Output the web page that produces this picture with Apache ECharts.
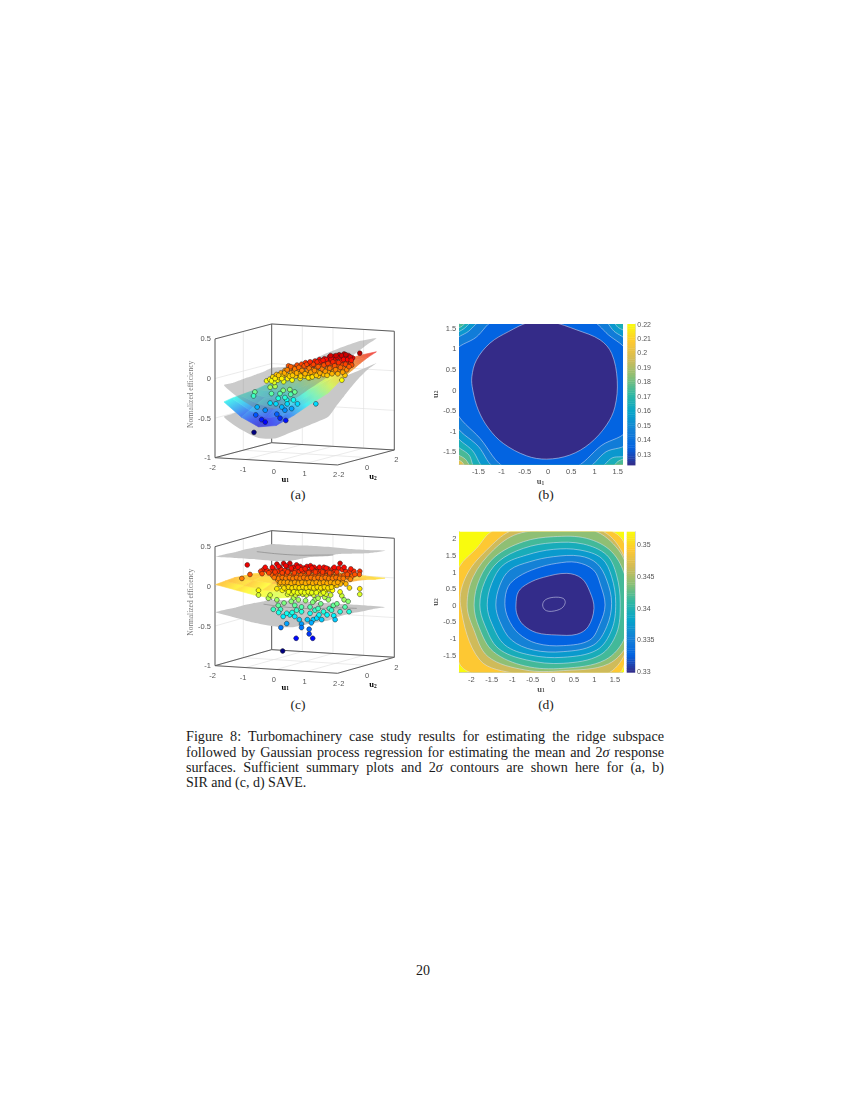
<!DOCTYPE html>
<html>
<head>
<meta charset="utf-8">
<title>Figure 8</title>
<script src="https://cdn.jsdelivr.net/npm/echarts@6/dist/echarts.min.js"></script>
<style>
html, body { margin: 0; padding: 0; background: #fff; }
#chart { width: 850px; height: 1100px; filter: blur(0.5px); }
.page-text { position: absolute; font-family: "Liberation Serif", serif; color: #1a1a1a; white-space: pre; line-height: 16px; }
.caption-line { left: 186px; width: 478px; font-size: 14.2px; white-space: normal; text-align: justify; text-align-last: justify; }
.caption-line.last { text-align-last: left; font-size: 14px; }
.sub-label { font-size: 13.5px; transform: translateX(-50%); }
</style>
</head>
<body>
<div id="chart"></div>
<div class="page-text sub-label" style="left:298px;top:487px">(a)</div>
<div class="page-text sub-label" style="left:546px;top:487px">(b)</div>
<div class="page-text sub-label" style="left:298px;top:697px">(c)</div>
<div class="page-text sub-label" style="left:546px;top:697px">(d)</div>
<div class="page-text caption-line" style="top:728px">Figure 8: Turbomachinery case study results for estimating the ridge subspace</div>
<div class="page-text caption-line" style="top:744px">followed by Gaussian process regression for estimating the mean and 2<i>&sigma;</i> response</div>
<div class="page-text caption-line" style="top:759px">surfaces. Sufficient summary plots and 2<i>&sigma;</i> contours are shown here for (a, b)</div>
<div class="page-text caption-line last" style="top:775px">SIR and (c, d) SAVE.</div>
<div class="page-text" style="left:416px;top:963px;font-size:14px">20</div>
<script>
// 3d panels: tick labels
var u1Ticks = [-2, -1, 0, 1, 2];
var u2Ticks = [-2, 0, 2];
var zTicks = [-1, -0.5, 0, 0.5];

// panel (a): surface nodes and heights (rows follow u2, columns follow u1)
var aNodesU1 = [-1.8, -1.23, -0.67, -0.1, 0.47, 1.03, 1.6];
var aNodesU2 = [-1.8, -1.23, -0.67, -0.1, 0.47, 1.03, 1.6];
var aMean = [
  [-0.30, -0.48, -0.59, -0.56, -0.42, -0.26, -0.11],
  [-0.28, -0.42, -0.50, -0.46, -0.32, -0.16, -0.03],
  [-0.27, -0.36, -0.41, -0.35, -0.22, -0.07, 0.04],
  [-0.26, -0.31, -0.32, -0.24, -0.12, 0.01, 0.10],
  [-0.25, -0.26, -0.24, -0.15, -0.03, 0.08, 0.16],
  [-0.23, -0.21, -0.16, -0.07, 0.05, 0.14, 0.21],
  [-0.21, -0.17, -0.09, 0.00, 0.10, 0.19, 0.25]
];
// 2 sigma surfaces, heights walking round the border of the domain
var aUpperEdge = [-0.09, -0.26, -0.37, -0.35, -0.22, -0.06, 0.10, 0.16, 0.22, 0.28, 0.33, 0.38, 0.42,
  0.37, 0.28, 0.18, 0.07, 0.00, -0.03, -0.05, -0.06, -0.07, -0.08, -0.09];
var aLowerEdge = [-0.49, -0.64, -0.73, -0.72, -0.62, -0.52, -0.41, -0.30, -0.20, -0.10, -0.01, 0.06, 0.105,
  0.00, -0.10, -0.20, -0.30, -0.38, -0.42, -0.44, -0.45, -0.46, -0.47, -0.48];
// samples read against the left axis: [position across the box, height]
var aPoints = [
  [-1.13,-0.68],[-1.09,-0.46],[-0.96,-0.52],[-0.88,-0.55],[-0.55,-0.50],[-0.42,-0.53],[-0.62,-0.45],[-0.88,-0.40],
  [-0.77,-0.31],[0.25,-0.32],[-0.29,-0.38],[-0.44,-0.40],[-1.11,-0.17],[-1.14,-0.22],[-1.06,-0.36],[-0.74,-0.19],
  [-0.51,-0.36],[-0.40,-0.27],[-0.25,-0.27],[-0.59,-0.25],[-0.48,-0.15],[-0.33,-0.14],[-0.22,-0.17],[-0.66,-0.10],
  [-0.85,-0.03],[-0.39,-0.32],[-0.64,-0.32],[-0.31,-0.20],[-0.55,-0.19],[-0.44,-0.24],[-0.16,-0.32],[-0.77,-0.11],
  [-0.78,-0.01],[-0.71,0.02],[-0.68,-0.05],[-0.63,0.05],[-0.60,-0.02],[-0.57,0.01],[-0.53,0.07],[-0.49,0.03],
  [-0.47,-0.04],[-0.44,0.10],[-0.41,0.05],[-0.38,0.00],[-0.36,0.16],[-0.33,0.12],[-0.30,0.07],[-0.28,-0.02],
  [-0.25,0.14],[-0.23,0.09],[-0.20,0.03],[-0.17,0.17],[-0.15,0.11],[-0.12,0.06],[-0.10,0.00],[-0.07,0.18],
  [-0.05,0.13],[-0.03,0.08],[0.00,0.03],[0.02,0.20],[0.04,0.15],[0.07,0.10],[0.09,0.05],[0.11,0.01],
  [0.13,0.19],[0.16,0.16],[0.18,0.11],[0.20,0.06],[0.23,0.22],[0.25,0.17],[0.27,0.13],[0.29,0.08],
  [0.31,0.03],[0.33,0.24],[0.35,0.20],[0.38,0.15],[0.40,0.10],[0.42,0.05],[0.44,0.25],[0.47,0.21],
  [0.49,0.17],[0.51,0.12],[0.53,0.08],[0.55,0.27],[0.57,0.23],[0.60,0.19],[0.62,0.14],[0.64,0.09],
  [0.66,0.28],[0.68,0.24],[0.71,0.20],[0.73,0.15],[0.75,0.11],[0.77,0.30],[0.79,0.26],[0.82,0.22],
  [0.84,0.17],[0.86,0.13],[0.88,0.31],[0.90,0.27],[0.93,0.22],[0.95,0.18],[0.98,0.29],[1.00,0.25],
  [1.03,0.20],[1.07,0.26],[1.23,0.32],[0.83,-0.02],[0.90,0.04],[1.05,0.17],[0.94,0.11],
  [-0.74,-0.03],[-0.66,0.00],[-0.58,0.04],[-0.51,0.00],[-0.45,0.07],[-0.39,0.11],[-0.34,0.03],[-0.31,0.15],
  [-0.27,0.04],[-0.22,0.12],[-0.18,0.07],[-0.13,0.14],[-0.09,0.03],[-0.06,0.10],[-0.01,0.16],[0.01,0.06],
  [0.05,0.18],[0.08,0.01],[0.10,0.13],[0.14,0.08],[0.17,0.02],[0.19,0.18],[0.22,0.10],[0.26,0.04],
  [0.28,0.21],[0.30,0.15],[0.34,0.07],[0.37,0.22],[0.39,0.12],[0.43,0.17],[0.46,0.09],[0.48,0.24],
  [0.50,0.04],[0.52,0.19],[0.56,0.13],[0.59,0.25],[0.61,0.06],[0.63,0.21],[0.67,0.16],[0.69,0.11],
  [0.72,0.27],[0.74,0.06],[0.76,0.20],[0.80,0.14],[0.83,0.29],[0.85,0.08],[0.87,0.24],[0.91,0.18],
  [0.96,0.24],[0.99,0.15],[1.02,0.27],[1.04,0.23],[0.92,0.30],[0.70,0.29],[0.58,0.29],[0.41,0.23],[0.12,0.21]
];

// panel (c)
var cNodesU1 = [-2, -1.38, -0.77, -0.15, 0.47, 1.08, 1.7];
var cNodesU2 = [-1.95, -1.29, -0.63, 0.02, 0.68, 1.34, 2];
var cMean = [
  [0.02, -0.03, -0.08, -0.11, -0.08, 0.00, 0.08],
  [0.03, -0.01, -0.05, -0.07, -0.04, 0.02, 0.08],
  [0.04, 0.02, 0.00, -0.02, 0.00, 0.04, 0.07],
  [0.03, 0.04, 0.05, 0.04, 0.04, 0.05, 0.06],
  [0.02, 0.04, 0.05, 0.05, 0.05, 0.04, 0.04],
  [0.00, 0.02, 0.03, 0.04, 0.03, 0.02, 0.01],
  [-0.03, 0.00, 0.02, 0.03, 0.02, 0.00, -0.01]
];
var cUpperEdge = [0.37, 0.37, 0.37, 0.36, 0.38, 0.44, 0.47, 0.46, 0.43, 0.40, 0.37, 0.35, 0.337,
  0.33, 0.33, 0.34, 0.34, 0.33, 0.33, 0.34, 0.35, 0.36, 0.36, 0.37];
var cLowerEdge = [-0.33, -0.38, -0.43, -0.46, -0.46, -0.40, -0.34, -0.33, -0.33, -0.34, -0.35, -0.36, -0.377,
  -0.37, -0.37, -0.37, -0.37, -0.37, -0.37, -0.36, -0.35, -0.34, -0.34, -0.33];
// darker folds seen on the two gray sheets: [u1, u2, z]
var cUpperFold = [[-1.56,0,0.347],[-0.9,0,0.335],[-0.2,0,0.335],[0.4,0,0.35],[0.93,0,0.364]];
var cLowerFold = [[-1.34,0,-0.31],[-0.6,0,-0.33],[0.2,0,-0.33],[1.0,0,-0.30],[1.7,0,-0.29]];
var cPoints = [
  [-1.28,0.27],[-1.22,0.15],[-1.40,0.10],[-1.03,-0.05],[-1.03,-0.11],[-0.49,-0.815],[-0.19,-0.655],[0.18,-0.655],
  [0.10,-0.60],[-0.53,-0.52],[0.10,-0.54],[-0.07,-0.475],[-0.07,-0.52],[-0.40,-0.47],[-0.48,-0.38],[-0.22,-0.38],
  [0.06,-0.42],[0.19,-0.42],[0.27,-0.40],[0.38,-0.42],[0.65,-0.37],[0.68,-0.42],[-0.33,-0.36],[-0.40,-0.34],
  [-0.54,-0.29],[-0.70,-0.29],[-0.07,-0.32],[0.12,-0.34],[0.23,-0.30],[0.42,-0.32],[0.55,-0.28],[0.79,-0.32],
  [0.99,-0.32],[-0.22,-0.24],[-0.07,-0.26],[0.12,-0.26],[0.30,-0.28],[0.64,-0.24],[0.90,-0.26],[-0.81,-0.15],
  [-0.77,-0.11],[-0.62,-0.17],[-0.59,-0.24],[-0.25,-0.15],[-0.14,-0.17],[0.23,-0.17],[0.30,-0.15],[0.45,-0.14],
  [0.53,-0.17],[0.83,-0.12],[0.88,-0.17],[0.97,-0.19],[1.23,-0.10],[1.23,-0.03],[0.79,-0.07],
  [-0.62,0.28],[-0.55,0.24],[-0.47,0.29],[-0.40,0.25],[-0.33,0.29],[-0.26,0.24],[-0.18,0.27],[-0.10,0.25],
  [-0.02,0.23],[0.05,0.25],[0.13,0.26],[0.21,0.24],[0.30,0.22],[0.43,0.24],[0.52,0.22],[0.63,0.22],[0.79,0.29],
  [-0.92,0.21],[-0.84,0.20],[-0.76,0.19],[-0.68,0.21],[-0.60,0.19],[-0.52,0.21],[-0.44,0.20],[-0.36,0.19],
  [-0.28,0.21],[-0.20,0.20],[-0.12,0.19],[-0.04,0.18],[0.04,0.20],[0.12,0.19],[0.20,0.20],[0.28,0.18],
  [0.36,0.20],[0.44,0.18],[0.52,0.19],[0.60,0.17],[0.68,0.20],[0.76,0.23],[0.84,0.21],[0.92,0.19],
  [1.00,0.18],[1.10,0.19],[1.23,0.19],[1.22,0.15],
  [-0.72,0.14],[-0.64,0.15],[-0.56,0.13],[-0.48,0.15],[-0.40,0.14],[-0.32,0.13],[-0.24,0.15],[-0.16,0.13],
  [-0.08,0.14],[0.00,0.13],[0.08,0.15],[0.16,0.13],[0.24,0.14],[0.32,0.13],[0.40,0.15],[0.48,0.13],
  [0.56,0.14],[0.64,0.12],[0.72,0.14],[0.80,0.13],[0.88,0.14],[0.96,0.12],[1.06,0.13],
  [-0.60,0.08],[-0.52,0.09],[-0.44,0.07],[-0.36,0.09],[-0.28,0.07],[-0.20,0.09],[-0.12,0.07],[-0.04,0.08],
  [0.04,0.07],[0.12,0.09],[0.20,0.07],[0.28,0.09],[0.36,0.07],[0.44,0.08],[0.52,0.07],[0.60,0.09],
  [0.68,0.07],[0.76,0.08],[0.84,0.06],[0.92,0.03],
  [-0.56,0.03],[-0.48,0.01],[-0.40,0.03],[-0.32,0.01],[-0.24,0.02],[-0.16,0.00],[-0.08,0.02],[0.00,0.01],
  [0.08,0.03],[0.16,0.01],[0.24,0.02],[0.32,0.00],[0.40,0.02],[0.48,0.01],[0.56,0.02],[0.64,0.00],[0.72,0.01],[0.80,0.03],
  [-0.62,-0.03],[-0.50,-0.05],[-0.42,-0.03],[-0.34,-0.05],[-0.26,-0.03],[-0.18,-0.05],[-0.10,-0.04],[-0.02,-0.06],
  [0.06,-0.03],[0.14,-0.05],[0.22,-0.04],[0.30,-0.06],[0.38,-0.03],[0.46,-0.05],[0.54,-0.04],[0.62,-0.05],
  [-0.38,-0.10],[-0.30,-0.09],[-0.20,-0.11],[-0.12,-0.09],[-0.04,-0.10],[0.04,-0.11],[0.12,-0.09],[0.20,-0.11],
  [0.36,-0.10],[0.48,-0.10],[0.58,-0.11],
  [-0.88,0.24],[-0.80,0.17],[-0.72,0.24],[-0.66,0.18],[-0.58,0.25],[-0.50,0.17],[-0.42,0.26],[-0.38,0.18],
  [-0.30,0.23],[-0.23,0.17],[-0.15,0.24],[-0.07,0.21],[0.01,0.22],[0.09,0.17],[0.16,0.23],[0.24,0.18],
  [0.33,0.24],[0.40,0.18],[0.48,0.23],[0.56,0.17],[0.66,0.24],[0.72,0.18],[0.88,0.24],[0.95,0.15],[1.03,0.22],
  [-0.68,0.11],[-0.58,0.10],[-0.50,0.11],[-0.42,0.10],[-0.34,0.11],[-0.26,0.10],[-0.18,0.11],[-0.10,0.10],
  [-0.02,0.11],[0.06,0.10],[0.14,0.11],[0.22,0.10],[0.30,0.11],[0.38,0.10],[0.46,0.11],[0.54,0.10],
  [0.62,0.10],[0.70,0.11],[0.78,0.10],[0.86,0.10],
  [-0.54,0.05],[-0.46,0.05],[-0.38,0.05],[-0.30,0.04],[-0.22,0.05],[-0.14,0.04],[-0.06,0.05],[0.02,0.04],
  [0.10,0.05],[0.18,0.04],[0.26,0.05],[0.34,0.04],[0.42,0.05],[0.50,0.04],[0.58,0.05],[0.66,0.04],[0.74,0.05],
  [-0.46,-0.02],[-0.36,-0.01],[-0.28,-0.02],[-0.20,-0.01],[-0.12,-0.02],[-0.04,-0.01],[0.04,-0.02],[0.12,-0.01],
  [0.20,-0.02],[0.28,-0.01],[0.36,-0.02],[0.44,-0.01],[0.52,-0.02],[0.60,-0.01],
  [-0.36,-0.07],[-0.24,-0.07],[-0.16,-0.08],[-0.08,-0.07],[0.00,-0.08],[0.08,-0.07],[0.16,-0.08],[0.26,-0.08],[0.42,-0.08],
  [-0.30,-0.19],[-0.46,-0.21],[0.36,-0.22],[0.18,-0.20],[0.02,-0.18],[-0.18,-0.30],[0.32,-0.36],[-0.28,-0.33],
  [0.50,-0.36],[0.72,-0.22],[0.60,-0.30],[-0.12,-0.42],[0.15,-0.46],[-0.58,-0.33],
  [-0.98,0.19],[-0.95,0.16],[1.12,0.15],[1.02,0.09],[1.00,-0.02]
];

// panel (b): filled contours, outermost first, with the value each one is painted with
var bTicksX = [-1.5, -1, -0.5, 0, 0.5, 1, 1.5];
var bTicksY = [-1.5, -1, -0.5, 0, 0.5, 1, 1.5];
var bBarTicks = [0.13, 0.14, 0.15, 0.16, 0.17, 0.18, 0.19, 0.2, 0.21, 0.22];
var bFillValues = [0.2, 0.185, 0.175, 0.165, 0.155, 0.145, 0.135, 0.1228];
var bContours = [
  [[-2,1.7],[1.7,1.7],[1.7,-1.9],[-2,-1.9]],
  [[-2,1.7],[1.7,1.7],[1.7,-1.9],[-1.73,-1.9],[-1.85,-1.75],[-2,-1.62]],
  [[-2,1.7],[1.7,1.7],[1.7,-1.9],[-1.6,-1.9],[-1.78,-1.68],[-2,-1.47]],
  [[-2,1.45],[-1.85,1.55],[-1.7,1.7],[1.7,1.7],[1.7,-1.58],[1.5,-1.74],[1.33,-1.9],[-1.54,-1.9],[-1.7,-1.58],[-2,-1.26]],
  [[-2,1.3],[-1.8,1.5],[-1.55,1.7],[1.35,1.7],[1.5,1.53],[1.7,1.36],[1.7,-1.55],[1.38,-1.65],[1.08,-1.9],[-1.33,-1.9],[-1.62,-1.48],[-2,-1.02]],
  [[-2,1.17],[-1.72,1.42],[-1.38,1.7],[1.17,1.7],[1.42,1.43],[1.7,1.15],[1.7,-1.27],[1.25,-1.5],[0.80,-1.9],[-1.1,-1.9],[-1.5,-1.37],[-2,-0.78]],
  [[-2,0.92],[-1.55,1.28],[-1.12,1.7],[0.88,1.7],[1.30,1.34],[1.7,0.90],[1.7,-0.95],[1.16,-1.34],[0.52,-1.9],[-0.88,-1.9],[-1.46,-1.18],[-2,-0.45]],
  [[-0.39,1.65],[-0.85,1.42],[-1.25,1.14],[-1.54,0.73],[-1.64,0.32],[-1.62,0],[-1.50,-0.49],[-1.28,-0.93],[-0.96,-1.30],[-0.46,-1.60],
   [-0.03,-1.68],[0.47,-1.58],[0.90,-1.30],[1.26,-0.85],[1.44,-0.41],[1.49,0.24],[1.37,0.89],[1.12,1.22],[0.62,1.46],[0.08,1.65]]
];

// panel (d)
var dTicksX = [-2, -1.5, -1, -0.5, 0, 0.5, 1, 1.5];
var dTicksY = [-1.5, -1, -0.5, 0, 0.5, 1, 1.5, 2];
var dBarTicks = [0.33, 0.335, 0.34, 0.345, 0.35];
var dFillValues = [0.352, 0.3492, 0.3464, 0.344, 0.3416, 0.3394, 0.3374, 0.3354, 0.3327, 0.33, 0.33];
var dContours = [
  [[-2.6,2.5],[2,2.5],[2,-2.3],[-2.6,-2.3]],
  [[-2.68,0],[-2.29,1.16],[-1.87,1.71],[-1.46,2.24],[0,2.61],[1.38,2.24],[1.71,1.91],[2.2,0.06],[1.71,-1.84],[1.59,-2.04],[0.24,-2.44],[-1.95,-2.04],[-2.29,-1.74]],
  [[-2.26,0],[-2.11,0.91],[-1.54,1.76],[-0.98,2.26],[0,2.41],[1.14,2.26],[1.67,1.61],[2.03,0.06],[1.75,-1.44],[1.30,-2.06],[0.24,-2.24],[-0.89,-2.06],[-1.79,-1.64]],
  [[-2.10,0.01],[-1.95,0.86],[-1.46,1.66],[-0.88,2.14],[0,2.26],[0.98,2.24],[1.59,1.66],[1.85,0.86],[1.89,0.06],[1.85,-1.04],[1.34,-1.76],[0.24,-1.96],[-0.69,-1.94],[-1.59,-1.54],[-1.95,-0.69]],
  [[-1.93,0.01],[-1.79,0.81],[-1.42,1.46],[-0.73,1.91],[0,2.06],[0.81,2.01],[1.42,1.61],[1.75,0.86],[1.79,0.06],[1.75,-0.94],[1.26,-1.64],[0.24,-1.89],[-0.69,-1.82],[-1.46,-1.39],[-1.80,-0.69]],
  [[-1.79,0.01],[-1.67,0.71],[-1.34,1.31],[-0.73,1.71],[0,1.88],[0.73,1.84],[1.30,1.51],[1.54,0.91],[1.63,0.06],[1.54,-0.84],[1.14,-1.49],[0.24,-1.74],[-0.65,-1.64],[-1.34,-1.29],[-1.67,-0.59]],
  [[-1.61,0.01],[-1.50,0.66],[-1.22,1.21],[-0.65,1.51],[0,1.68],[0.65,1.66],[1.18,1.41],[1.42,0.86],[1.52,0.06],[1.42,-0.74],[1.06,-1.34],[0.24,-1.56],[-0.57,-1.49],[-1.18,-1.19],[-1.50,-0.54]],
  [[-1.40,0.01],[-1.30,0.61],[-1.06,1.06],[-0.57,1.31],[0,1.46],[0.65,1.48],[1.06,1.26],[1.30,0.76],[1.42,0.06],[1.30,-0.64],[0.98,-1.19],[0.24,-1.39],[-0.49,-1.34],[-1.02,-1.04],[-1.30,-0.49]],
  [[-1.18,0.06],[-1.10,0.56],[-0.85,0.86],[-0.41,1.11],[0.08,1.26],[0.57,1.29],[0.98,1.06],[1.15,0.61],[1.26,0.01],[1.14,-0.54],[0.89,-1.04],[0.24,-1.21],[-0.41,-1.14],[-0.85,-0.84],[-1.10,-0.39]],
  [[-0.91,0.01],[-0.85,0.41],[-0.61,0.66],[-0.24,0.84],[0.33,0.96],[0.69,0.81],[0.89,0.41],[0.99,-0.09],[0.85,-0.64],[0.57,-0.87],[0.08,-0.89],[-0.41,-0.82],[-0.73,-0.59],[-0.88,-0.29]],
  [[-0.26,0.01],[-0.20,0.16],[0,0.24],[0.24,0.21],[0.29,0.08],[0.20,-0.09],[-0.04,-0.18],[-0.20,-0.14]]
];

var parulaStops = [[53,42,135],[3,99,225],[20,129,214],[6,164,202],[46,183,164],[135,191,119],[209,187,89],[254,200,50],[249,251,14]];
var sansFont = '"Liberation Sans", Arial, sans-serif';
var serifFont = '"Liberation Serif", serif';

function clamp01(v) { return Math.max(0, Math.min(1, v)); }
function jet(t) {
  t = clamp01(t);
  return [clamp01(1.5 - Math.abs(4 * t - 3)), clamp01(1.5 - Math.abs(4 * t - 2)), clamp01(1.5 - Math.abs(4 * t - 1))].map(function (c) { return c * 255; });
}
function rgb(c) { return 'rgb(' + Math.round(c[0]) + ',' + Math.round(c[1]) + ',' + Math.round(c[2]) + ')'; }
function blend(c, to, k) { return c.map(function (v) { return v + (to - v) * k; }); }
function parula(t) {
  t = clamp01(t) * (parulaStops.length - 1);
  var i = Math.min(Math.floor(t), parulaStops.length - 2), f = t - i;
  return rgb(parulaStops[i].map(function (v, k) { return v + (parulaStops[i + 1][k] - v) * f; }));
}

// oblique view of the box on the panel's hidden axes (x -2..2, y along the left z axis)
function makeView(v1, v2) {
  return function (u1, u2, z) {
    return [-2 + (u1 + 2) * 0.684 + (u2 + 2) * 0.316, z - (u1 + 2) * v1 + (u2 + 2) * v2];
  };
}
var viewA = makeView(0.023, 0.0473);
var viewC = makeView(0.024, 0.0505);

function custom(grid, count, draw, z, clip) {
  var data = [];
  for (var i = 0; i < count; i++) data.push([i]);
  return {
    type: 'custom', xAxisIndex: grid, yAxisIndex: grid, z: z, clip: !!clip, silent: true,
    data: data, animation: false,
    renderItem: function (params, api) { return draw(params.dataIndex, api); }
  };
}

function boxSeries(grid, view) {
  var segs = [];
  function seg(a, b, c, d, e, f, dark) { segs.push([a, b, c, d, e, f, dark]); }
  u2Ticks.forEach(function (t) {
    seg(-2, t, -1, -2, t, 0.5, 0);
    seg(-2, t, -1, 2, t, -1, 0);
  });
  u1Ticks.forEach(function (t) {
    seg(t, 2, -1, t, 2, 0.5, 0);
    seg(t, -2, -1, t, 2, -1, 0);
  });
  zTicks.forEach(function (t) {
    seg(-2, -2, t, -2, 2, t, 0);
    seg(-2, 2, t, 2, 2, t, 0);
  });
  // frame
  seg(-2, -2, -1, 2, -2, -1, 1); seg(2, -2, -1, 2, 2, -1, 1);
  seg(-2, -2, -1, -2, 2, -1, 1); seg(-2, 2, -1, 2, 2, -1, 1);
  seg(-2, -2, -1, -2, -2, 0.5, 1); seg(-2, 2, -1, -2, 2, 0.5, 1); seg(2, 2, -1, 2, 2, 0.5, 1);
  seg(-2, -2, 0.5, -2, 2, 0.5, 1); seg(-2, 2, 0.5, 2, 2, 0.5, 1);
  return custom(grid, segs.length, function (i, api) {
    var s = segs[i], a = api.coord(view(s[0], s[1], s[2])), b = api.coord(view(s[3], s[4], s[5]));
    return {
      type: 'line', shape: { x1: a[0], y1: a[1], x2: b[0], y2: b[1] },
      style: { stroke: s[6] ? '#5e5e5e' : '#dedede', lineWidth: s[6] ? 1 : 0.6 }
    };
  }, 1);
}

function labelSeries(grid, view) {
  var items = [];
  u1Ticks.forEach(function (t) { items.push({ text: String(t), at: [t, -2, -1], dx: -2.5, dy: 10 }); });
  [3.5, 1, 2].forEach(function (dx, k) { items.push({ text: String(u2Ticks[k]), at: [2, u2Ticks[k], -1], dx: dx, dy: 10 }); });
  items.push({ rich: '{b|u}{s|1}', at: [0, -2, -1], dx: 9, dy: 17.5 });
  items.push({ rich: '{b|u}{s|2}', at: [2, 0, -1], dx: 7, dy: 19 });
  return custom(grid, items.length, function (i, api) {
    var it = items[i], p = api.coord(view(it.at[0], it.at[1], it.at[2]));
    var style = { x: p[0] + it.dx, y: p[1] + it.dy, align: 'center', verticalAlign: 'middle' };
    if (it.rich) {
      style.text = it.rich;
      style.rich = nameRich;
    } else {
      style.text = it.text;
      style.fill = '#555';
      style.font = '7.5px ' + sansFont;
    }
    return { type: 'text', style: style };
  }, 9);
}

function edgeRing(u1s, u2s, vals) {
  var pts = [], i;
  for (i = 0; i < 7; i++) pts.push([u1s[i], u2s[0]]);
  for (i = 1; i < 7; i++) pts.push([u1s[6], u2s[i]]);
  for (i = 5; i >= 0; i--) pts.push([u1s[i], u2s[6]]);
  for (i = 5; i >= 1; i--) pts.push([u1s[0], u2s[i]]);
  return pts.map(function (p, k) { return [p[0], p[1], vals[k]]; });
}

function grayRing(grid, view, ring, fill, z) {
  return custom(grid, 1, function (i, api) {
    return {
      type: 'polygon',
      shape: { points: ring.map(function (p) { return api.coord(view(p[0], p[1], p[2])); }), smooth: 0.2 },
      style: { fill: fill, stroke: null }
    };
  }, z);
}

function foldLine(grid, view, pts, z) {
  return custom(grid, 1, function (i, api) {
    return {
      type: 'polyline',
      shape: { points: pts.map(function (p) { return api.coord(view(p[0], p[1], p[2])); }), smooth: 0.3 },
      style: { fill: null, stroke: 'rgba(120,120,120,0.55)', lineWidth: 1 }
    };
  }, z);
}

// tint stands in for what shows through the see-through surface
function meanSurface(grid, view, u1s, u2s, heights, lo, hi, tint, amount, z) {
  var cells = [];
  for (var r = 0; r < u2s.length - 1; r++) for (var c = 0; c < u1s.length - 1; c++) cells.push([r, c]);
  function col(h) { return rgb(blend(jet((h - lo) / (hi - lo)), tint, amount)); }
  return custom(grid, cells.length, function (i, api) {
    var r = cells[i][0], c = cells[i][1];
    var corners = [[r, c], [r, c + 1], [r + 1, c + 1], [r + 1, c]].map(function (n) {
      var h = heights[n[0]][n[1]];
      return { h: h, p: api.coord(view(u1s[n[1]], u2s[n[0]], h)) };
    });
    var low = corners[0], high = corners[0];
    corners.forEach(function (k) { if (k.h < low.h) low = k; if (k.h > high.h) high = k; });
    var mid = (low.h + high.h) / 2;
    var grad = {
      type: 'linear', x: low.p[0], y: low.p[1], x2: high.p[0], y2: high.p[1], global: true,
      colorStops: [{ offset: 0, color: col(low.h) }, { offset: 0.5, color: col(mid) }, { offset: 1, color: col(high.h) }]
    };
    return {
      type: 'polygon', shape: { points: corners.map(function (k) { return k.p; }) },
      style: { fill: grad, stroke: grad, lineWidth: 0.6 }
    };
  }, z);
}

function pointsSeries(grid, pts, lo, hi) {
  return {
    type: 'scatter', xAxisIndex: grid, yAxisIndex: grid, z: 7, silent: true, animation: false,
    symbolSize: 4.8, data: pts,
    itemStyle: {
      borderColor: '#1e1e1e', borderWidth: 0.5, opacity: 1,
      color: function (p) { return rgb(jet((p.value[1] - lo) / (hi - lo))); }
    }
  };
}

function contourSeries(grid, rings, values, lo, hi, smooth) {
  return custom(grid, rings.length, function (i, api) {
    return {
      type: 'polygon',
      shape: { points: rings[i].map(function (p) { return api.coord(p); }), smooth: smooth },
      style: { fill: parula((values[i] - lo) / (hi - lo)), stroke: 'rgba(225,228,245,0.8)', lineWidth: 0.65 }
    };
  }, 2, true);
}

function colorbarSeries(grid, lo, hi) {
  var steps = 64;
  return custom(grid, steps, function (i, api) {
    var a = api.coord([0, lo + (hi - lo) * i / steps]), b = api.coord([1, lo + (hi - lo) * (i + 1) / steps]);
    return {
      type: 'rect', shape: { x: a[0], y: b[1], width: b[0] - a[0], height: a[1] - b[1] + 0.4 },
      style: { fill: parula((i + 0.5) / steps) }
    };
  }, 2);
}

var nameRich = {
  b: { fontFamily: serifFont, fontWeight: 'bold', fontSize: 8.5, color: '#555' },
  s: { fontFamily: serifFont, fontWeight: 'bold', fontSize: 5.5, color: '#555', verticalAlign: 'bottom' }
};
function plotAxis(min, max, ticks, name, gap) {
  return {
    type: 'value', min: min, max: max, name: name, nameLocation: 'middle', nameGap: gap,
    nameTextStyle: { rich: nameRich },
    axisLine: { show: true, onZero: false, lineStyle: { color: '#b9bcc6', width: 0.8 } },
    axisTick: { show: true, inside: true, length: 2, customValues: ticks, lineStyle: { color: '#b9bcc6', width: 0.5 } },
    axisLabel: { customValues: ticks, color: '#555', fontSize: 7.5, fontFamily: sansFont, margin: 3 },
    splitLine: { show: false }
  };
}
function barAxis(min, max, ticks) {
  return {
    type: 'value', position: 'right', min: min, max: max,
    axisLine: { show: true, onZero: false, lineStyle: { color: '#b9bcc6', width: 0.6 } },
    axisTick: { show: false },
    axisLabel: { customValues: ticks, color: '#555', fontSize: 7, fontFamily: sansFont, margin: 2 },
    splitLine: { show: false }
  };
}
function hiddenX(grid) { return { gridIndex: grid, type: 'value', min: -2, max: 2, show: false }; }
function panelZAxis(grid) {
  return {
    gridIndex: grid, type: 'value', min: -1.1, max: 0.7, name: 'Normalized efficiency', nameLocation: 'middle', nameGap: 15,
    nameTextStyle: { fontFamily: serifFont, fontSize: 7.5, color: '#777' },
    axisLine: { show: false }, axisTick: { show: false }, splitLine: { show: false },
    axisLabel: { customValues: zTicks, color: '#555', fontSize: 7.5, fontFamily: sansFont, margin: 4 }
  };
}

var option = {
  backgroundColor: '#fff',
  animation: false,
  grid: [
    { left: 215, top: 323.1, width: 179.3, height: 142.5 },
    { left: 459.3, top: 324, width: 162.4, height: 140.5 },
    { left: 627.3, top: 324, width: 8, height: 141 },
    { left: 215, top: 530.8, width: 179.3, height: 142.8 },
    { left: 459.3, top: 531.7, width: 163.4, height: 140.6 },
    { left: 626.7, top: 531.7, width: 8.3, height: 140.6 }
  ],
  xAxis: [
    hiddenX(0),
    Object.assign(plotAxis(-1.91, 1.586, bTicksX, '{b|u}{s|1}', 12), { gridIndex: 1 }),
    { gridIndex: 2, type: 'value', min: 0, max: 1, show: false },
    hiddenX(3),
    Object.assign(plotAxis(-2.29, 1.69, dTicksX, '{b|u}{s|1}', 12), { gridIndex: 4 }),
    { gridIndex: 5, type: 'value', min: 0, max: 1, show: false }
  ],
  yAxis: [
    panelZAxis(0),
    Object.assign(plotAxis(-1.81, 1.605, bTicksY, '{b|u}{s|2}', 17), { gridIndex: 1 }),
    Object.assign(barAxis(0.1226, 0.22, bBarTicks), { gridIndex: 2 }),
    panelZAxis(3),
    Object.assign(plotAxis(-2.01, 2.21, dTicksY, '{b|u}{s|2}', 17), { gridIndex: 4 }),
    Object.assign(barAxis(0.3299, 0.352, dBarTicks), { gridIndex: 5 })
  ],
  series: [
    boxSeries(0, viewA),
    grayRing(0, viewA, edgeRing(aNodesU1, aNodesU2, aLowerEdge), 'rgb(200,200,200)', 3),
    meanSurface(0, viewA, aNodesU1, aNodesU2, aMean, -0.68, 0.38, 215, 0.34, 4),
    grayRing(0, viewA, edgeRing(aNodesU1, aNodesU2, aUpperEdge), 'rgba(130,130,130,0.42)', 5),
    pointsSeries(0, aPoints, -0.68, 0.38),
    labelSeries(0, viewA),
    contourSeries(1, bContours, bFillValues, 0.1226, 0.22, 0.35),
    colorbarSeries(2, 0.1226, 0.22),
    boxSeries(3, viewC),
    grayRing(3, viewC, edgeRing(cNodesU1, cNodesU2, cLowerEdge), 'rgb(198,198,198)', 3),
    grayRing(3, viewC, edgeRing(cNodesU1, cNodesU2, cUpperEdge), 'rgb(198,198,198)', 3),
    foldLine(3, viewC, cUpperFold, 3),
    foldLine(3, viewC, cLowerFold, 3),
    meanSurface(3, viewC, cNodesU1, cNodesU2, cMean, -0.815, 0.40, 255, 0.28, 4),
    pointsSeries(3, cPoints, -0.815, 0.40),
    labelSeries(3, viewC),
    contourSeries(4, dContours, dFillValues, 0.3299, 0.352, 0.35),
    colorbarSeries(5, 0.3299, 0.352)
  ]
};

var chart = echarts.init(document.getElementById('chart'), null, { renderer: 'svg', width: 850, height: 1100 });
chart.setOption(option);
</script>
</body>
</html>
